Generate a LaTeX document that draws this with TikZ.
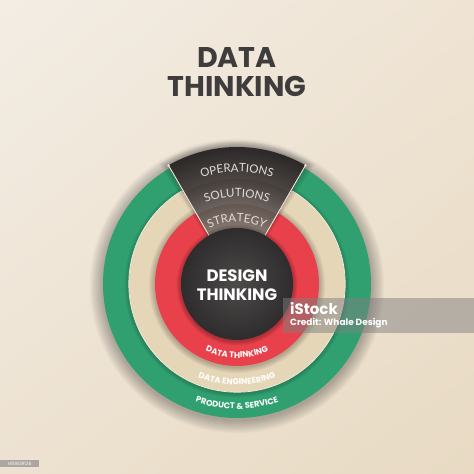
\documentclass[tikz,border=0pt]{standalone}
\usepackage{fontspec}
\newfontfamily\pop{Poppins}
\newfontfamily\lato{Lato}
\usetikzlibrary{calc,decorations.text,shadings}
\definecolor{bgA}{HTML}{F3EDE4}
\definecolor{bgB}{HTML}{EFE4D4}
\definecolor{bgC}{HTML}{EDE2D1}
\definecolor{bgD}{HTML}{E8DAC3}
\definecolor{ringG}{HTML}{30A070}
\definecolor{ringB}{HTML}{E6D6B8}
\definecolor{ringR}{HTML}{E8414B}
\definecolor{coreIn}{HTML}{4D4B4A}
\definecolor{coreOut}{HTML}{2E2C2C}
\definecolor{opsTop}{HTML}{2C2928}
\definecolor{opsBot}{HTML}{4B4542}
\definecolor{solTop}{HTML}{463F3C}
\definecolor{solBot}{HTML}{6B625E}
\definecolor{strTop}{HTML}{645650}
\definecolor{strBot}{HTML}{877871}
\definecolor{titleC}{HTML}{3E3C3C}
\definecolor{wedgeLbl}{HTML}{E2DCD8}
\definecolor{cream}{HTML}{F4EBDD}
\tikzset{
  halo/.style={fill=black,opacity=0.022},
  wedgeline/.style={draw=cream,line width=0.9pt},
  titlefont/.style={font=\pop\bfseries\fontsize{28.5}{30}\selectfont,text=titleC,inner sep=0pt},
  corefont/.style={font=\pop\bfseries\fontsize{16.5}{18}\selectfont,text=white,inner sep=0pt}
}
\newcommand\wsec[4]{% inner r, outer r, start, end (angles)
  ($(c)+(#3:#1pt)$) arc[start angle=#3,end angle=#4,radius=#1pt] -- ($(c)+(#4:#2pt)$) arc[start angle=#4,end angle=#3,radius=#2pt] -- cycle}
\newcommand\gradband[5]{% inner, outer, steps, topcolor, botcolor
  \foreach \k in {0,...,#3} {
    \pgfmathsetmacro\rr{#2-\k*(#2-#1)/(#3+1)}
    \pgfmathtruncatemacro\pp{100*\k/#3}
    \fill[#5!\pp!#4] \wsec{#1}{\rr}{60}{120};
  }}
\begin{document}
\begin{tikzpicture}[x=1pt,y=1pt]
\useasboundingbox (0,0) rectangle (474,474);
\shade[upper left=bgA, upper right=bgB, lower left=bgC, lower right=bgD] (0,0) rectangle (474,474);
\coordinate (c) at (237,190);
% green ring halo
\foreach \i in {1,...,12} {
  \fill[halo] ($(c)+(0,-2)$) circle[radius={(134+\i*1.1)*1pt}];
}
\fill[ringG] (c) circle[radius=134pt];
% beige ring
\foreach \i in {1,...,5} {
  \fill[black,opacity=0.04] ($(c)+(0,-1)$) circle[radius={(108+\i*0.9)*1pt}];
}
\fill[ringB] (c) circle[radius=108pt];
\draw[cream,line width=0.8pt] (c) circle[radius=108.2pt];
% red ring
\foreach \i in {1,...,6} {
  \fill[black,opacity=0.04] ($(c)+(0,-1)$) circle[radius={(82+\i*1.0)*1pt}];
}
\fill[ringR] (c) circle[radius=82pt];
% wedge shadow
\foreach \i in {1,...,6} {
  \pgfmathsetmacro\ro{137+\i}
  \pgfmathsetmacro\aa{60-\i*0.5}
  \pgfmathsetmacro\ab{120+\i*0.5}
  \fill[black,opacity=0.035] \wsec{56}{\ro}{\aa}{\ab};
}
% wedge bands
\gradband{105}{137}{24}{opsTop}{opsBot}
\gradband{80}{105}{20}{solTop}{solBot}
\gradband{56}{80}{20}{strTop}{strBot}
\draw[wedgeline] ($(c)+(60:56pt)$) -- ($(c)+(60:137pt)$);
\draw[wedgeline] ($(c)+(120:56pt)$) -- ($(c)+(120:137pt)$);
\fill[cream] ($(c)+(60:137pt)$) circle[radius=1.3pt];
\fill[cream] ($(c)+(120:137pt)$) circle[radius=1.3pt];
% core
\foreach \i in {1,...,5} {
  \fill[black,opacity=0.05] ($(c)+(0,-1)$) circle[radius={(56+\i*0.9)*1pt}];
}
\shade[inner color=coreIn, outer color=coreOut] (c) circle[radius=56pt];
% titles
\node[titlefont,anchor=base] (t1) at (237,406) {DATA};
\node[titlefont,anchor=base] (t2) at (237,377) {THINKING};
\node[corefont,anchor=base] (d1) at (237,192) {DESIGN};
\node[corefont,anchor=base] (d2) at (237,173) {THINKING};
% wedge labels
\path[decorate,decoration={text along path,text align=center,
  text={|\lato\fontsize{11.5}{12}\selectfont\color{wedgeLbl}|OPERATIONS}}]
  ($(c)+(120:112pt)$) arc[start angle=120,end angle=60,radius=112pt];
\path[decorate,decoration={text along path,text align=center,
  text={|\lato\fontsize{11.5}{12}\selectfont\color{wedgeLbl}|SOLUTIONS}}]
  ($(c)+(120:87pt)$) arc[start angle=120,end angle=60,radius=87pt];
\path[decorate,decoration={text along path,text align=center,
  text={|\lato\fontsize{11.5}{12}\selectfont\color{wedgeLbl}|STRATEGY}}]
  ($(c)+(120:62pt)$) arc[start angle=120,end angle=60,radius=62pt];
% ring labels
\path[decorate,decoration={text along path,text align=center,
  text={|\pop\bfseries\fontsize{8.3}{9}\selectfont\color{white}|DATA THINKING}}]
  ($(c)+(230:74pt)$) arc[start angle=230,end angle=310,radius=74pt];
\path[decorate,decoration={text along path,text align=center,
  text={|\pop\bfseries\fontsize{8.3}{9}\selectfont\color{white}|DATA ENGINEERING}}]
  ($(c)+(230:101pt)$) arc[start angle=230,end angle=310,radius=101pt];
\path[decorate,decoration={text along path,text align=center,
  text={|\pop\bfseries\fontsize{8.3}{9}\selectfont\color{white}|PRODUCT {\&} SERVICE}}]
  ($(c)+(230:125pt)$) arc[start angle=230,end angle=310,radius=125pt];
% watermark
\fill[gray,opacity=0.5] (283,141) rectangle (474,176);
\node[anchor=base west,inner sep=0pt,text=white,font=\pop\bfseries\fontsize{15}{16}\selectfont] (w1) at (290,159) {iStock};
\node[anchor=base west,inner sep=0pt,text=white,font=\pop\bfseries\fontsize{9}{10}\selectfont] (w2) at (290,148) {Credit: Whale Design};
\fill[gray,opacity=0.6] (0,7) rectangle (39,14);
\node[anchor=center,inner sep=0pt,text=white,font=\pop\fontsize{4.5}{5}\selectfont] (w3) at (19.5,10.5) {1451839126};
\end{tikzpicture}
\end{document}
